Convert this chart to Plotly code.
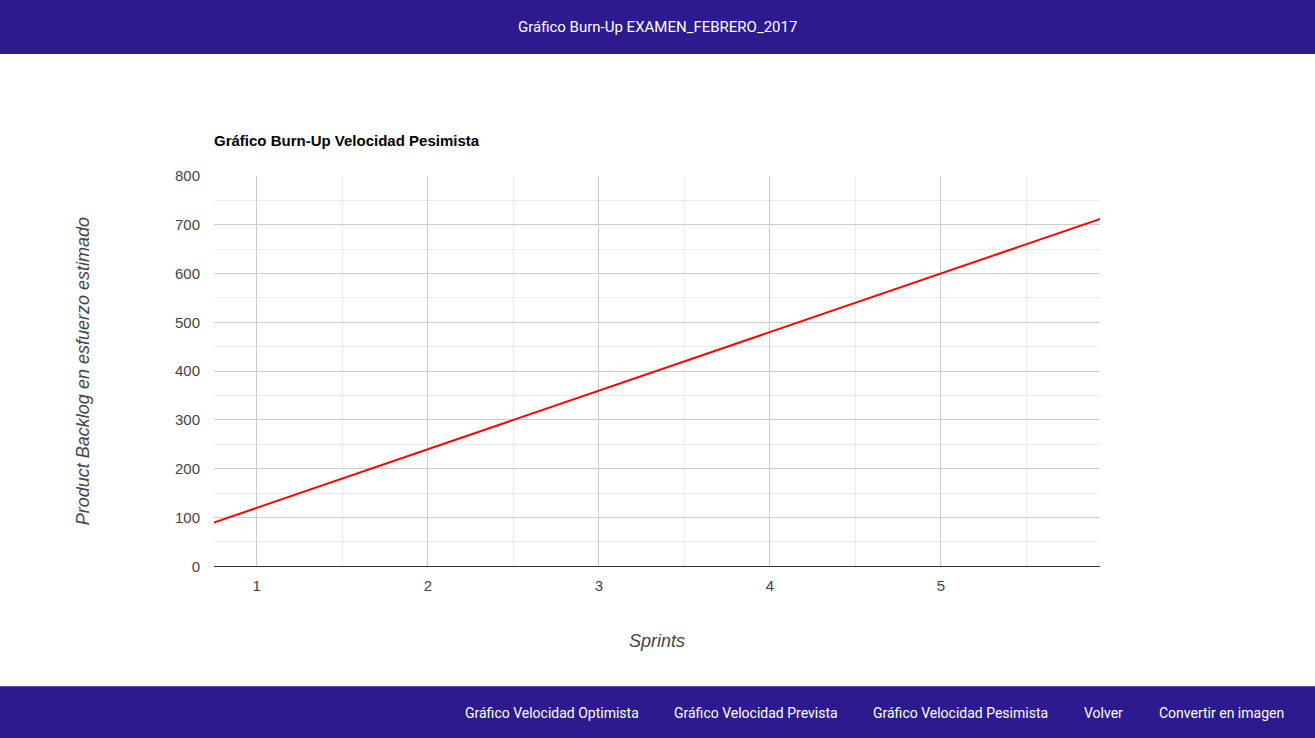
import plotly.graph_objects as go

sprints = [0, 1, 2, 3, 4, 5, 6]
esfuerzo = [0, 120, 240, 360, 480, 600, 720]
menu = ["Gráfico Velocidad Optimista", "Gráfico Velocidad Prevista", "Gráfico Velocidad Pesimista", "Volver", "Convertir en imagen"]
menu_x = [552, 756, 960, 1103, 1221]

W, H = 1315, 738
px = lambda x: x / W
# compensate for the viewer's vertical offset/scale
py = lambda y: (H - (y - 8) / 0.978) / H

fig = go.Figure(go.Scatter(x=sprints, y=esfuerzo, mode="lines", line=dict(color="#ff0000", width=2), hoverinfo="x+y"))
fig.update_layout(
    width=W, height=H, autosize=False, paper_bgcolor="white", plot_bgcolor="white", showlegend=False,
    margin=dict(l=0, r=0, t=0, b=0),
    font=dict(family="Arial", size=15, color="#444"),
    xaxis=dict(domain=[px(214), px(1100)], range=[0.75, 5.93], tickvals=[1, 2, 3, 4, 5], showgrid=True, gridcolor="#cccccc",
               minor=dict(tickvals=[1.5, 2.5, 3.5, 4.5, 5.5], showgrid=True, gridcolor="#ebebeb"),
               zeroline=False, showline=True, linecolor="#333", linewidth=1, ticks="outside", ticklen=6, tickcolor="rgba(0,0,0,0)",
               title=dict(text="<i>Sprints</i>", standoff=40)),
    yaxis=dict(domain=[py(566), py(175)], range=[0, 800], dtick=100, showgrid=True, gridcolor="#cccccc",
               minor=dict(dtick=50, showgrid=True, gridcolor="#ebebeb"),
               zeroline=False, ticks="outside", ticklen=10, tickcolor="rgba(0,0,0,0)",
               title=dict(text="<i>Product Backlog en esfuerzo estimado</i>", standoff=80)),
)
fig.add_shape(type="rect", xref="paper", yref="paper", x0=0, x1=1, y0=py(53), y1=1.05, fillcolor="#2e1a8f", line_width=0, layer="above")
fig.add_shape(type="rect", xref="paper", yref="paper", x0=0, x1=1, y0=-0.05, y1=py(686), fillcolor="#2e1a8f", line_width=0, layer="above")
fig.add_annotation(xref="paper", yref="paper", x=px(657), y=py(26), yanchor="middle", text="Gráfico Burn-Up EXAMEN_FEBRERO_2017", showarrow=False,
                   font=dict(family="Roboto", size=15, color="white"))
for t, x in zip(menu, menu_x):
    fig.add_annotation(xref="paper", yref="paper", x=px(x), xanchor="center", y=py(713), yanchor="middle", text=t, showarrow=False,
                       font=dict(family="Roboto", size=14, color="white"))
fig.add_annotation(xref="paper", yref="paper", x=px(212), xanchor="left", y=py(140), yanchor="middle", text="<b>Gráfico Burn-Up Velocidad Pesimista</b>",
                   showarrow=False, font=dict(family="Arial", size=15, color="black"))
html = fig.to_html(full_html=True, config={"displayModeBar": False, "responsive": False})
html = html.replace("<head>", "<head><style>html,body{margin:0;padding:0;overflow:hidden;}</style>", 1)
with open("out.html", "w", encoding="utf-8") as f:
    f.write(html)
